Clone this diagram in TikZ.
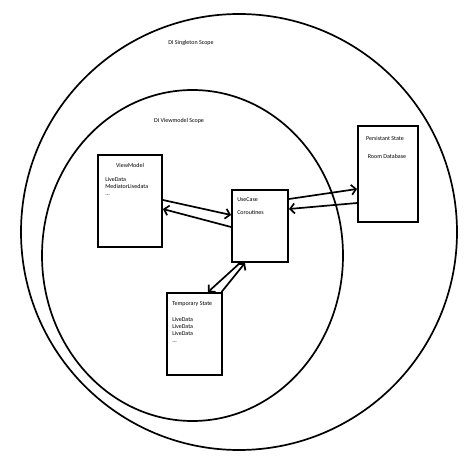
\documentclass[tikz,border=0pt]{standalone}
\usepackage{fontspec}
\setmainfont{Carlito}
\usepackage{tikz}
\usetikzlibrary{calc,arrows.meta,positioning}
\definecolor{ink}{HTML}{000000}
\definecolor{paper}{HTML}{FFFFFF}
\tikzset{
  ring/.style={draw=ink, line width=1.7pt},
  box/.style={draw=ink, line width=1.9pt, rectangle, inner sep=0pt},
  flow/.style={draw=ink, line width=1.7pt, -{Straight Barb[length=4.5pt,width=10pt]}},
  lab/.style={text=ink, font=\fontsize{6}{7}\selectfont, inner sep=0pt},
  labl/.style={lab, align=left, anchor=north west},
}
\begin{document}
\begin{tikzpicture}[x=1pt,y=-1pt]
  \useasboundingbox[fill=paper] (0,0) rectangle (474,462);
  % scopes
  \draw[ring] (239,232) circle [radius=218pt];
  \draw[ring] (192.5,255.5) ellipse [x radius=150.5pt, y radius=165.5pt];
  \node[lab] (single) at (191,43) {DI Singleton Scope};
  \node[lab] (vmscope) at (179,121) {DI Viewmodel Scope};
  % boxes
  \node[box, minimum width=64pt, minimum height=92pt] (vm) at (130,201) {};
  \node[box, minimum width=56pt, minimum height=72pt] (uc) at (260,226) {};
  \node[box, minimum width=60pt, minimum height=96pt] (ps) at (388,174) {};
  \node[box, minimum width=55pt, minimum height=82pt] (ts) at (194.5,334) {};
  % texts
  \node[lab] (vmt) at ([yshift=-11pt]vm.north) {ViewModel};
  \node[labl] (vml) at ([xshift=8pt,yshift=-23pt]vm.north west) {LiveData\\MediatorLivedata\\...};
  \node[labl] (uct) at ([xshift=6pt,yshift=-8.5pt]uc.north west) {UseCase\\[6pt]Coroutines};
  \node[lab] (pst) at ([xshift=-3pt,yshift=-13pt]ps.north) {Persistant State};
  \node[lab] (psr) at ([xshift=-1pt,yshift=-31pt]ps.north) {Room Database};
  \node[labl] (tst) at ([xshift=6pt,yshift=-9.5pt]ts.north west) {Temporary State\\[9pt]LiveData\\LiveData\\LiveData\\...};
  % arrows
  \draw[flow] ([yshift=1pt]vm.east) -- ([yshift=11pt]uc.west);
  \draw[flow] ([yshift=-1pt]uc.west) -- ([yshift=-8pt]vm.east);
  \draw[flow] ([yshift=27pt]uc.east) -- ([yshift=-15pt]ps.west);
  \draw[flow] ([yshift=-29pt]ps.west) -- ([yshift=17pt]uc.east);
  \draw[flow] ([xshift=-20pt]uc.south) -- ([xshift=13.5pt]ts.north);
  \draw[flow] ([xshift=27pt]ts.north) -- ([xshift=-15pt]uc.south);
\end{tikzpicture}
\end{document}
